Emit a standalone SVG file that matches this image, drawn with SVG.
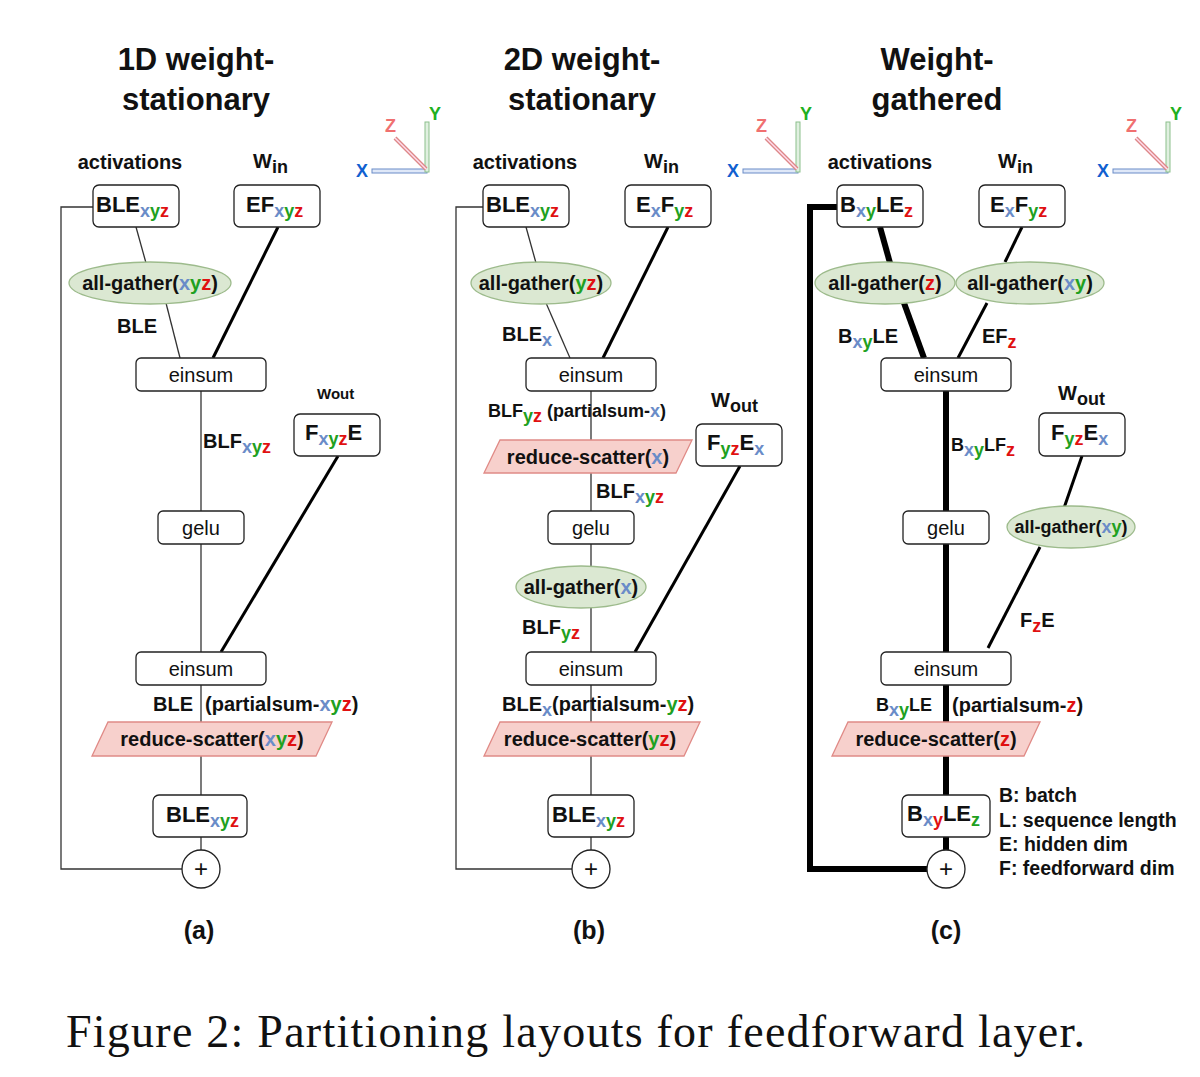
<svg xmlns="http://www.w3.org/2000/svg" width="1200" height="1077" viewBox="0 0 1200 1077">
<style>
text{font-family:"Liberation Sans",Arial,sans-serif;font-weight:bold;fill:#111}
.t{font-size:31px;text-anchor:middle}
.l{font-size:20px}
.c{text-anchor:middle}
.b{font-size:18px;baseline-shift:-5px}
.x{fill:#6a8cc8}.y{fill:#20a020}.z{fill:#e01010}
.bx{fill:#fff;stroke:#222;stroke-width:1.3}
.ag{fill:#dbe8d2;stroke:#9dbb8c;stroke-width:1.3}
.rs{fill:#f7d0cc;stroke:#e08a86;stroke-width:1.3}
.ln{stroke:#333;stroke-width:1.3;fill:none}
.tk{stroke:#000;stroke-width:3;fill:none}
.vt{stroke:#000;stroke-width:6;fill:none}
.p{font-size:24px;font-weight:normal;text-anchor:middle}
.cap{font-family:"Liberation Serif","Times New Roman",serif;font-weight:normal;font-size:46px}
</style>
<rect width="1200" height="1077" fill="#fff"/>
<text class="t" x="196" y="70">1D weight-</text><text class="t" x="196" y="110">stationary</text>
<text class="t" x="582" y="70">2D weight-</text><text class="t" x="582" y="110">stationary</text>
<text class="t" x="937" y="70">Weight-</text><text class="t" x="937" y="110">gathered</text>
<g id="axes">
<g>
<rect x="372" y="169" width="55" height="4" fill="#dfe8f8" stroke="#6a8cc8"/><rect x="425" y="122" width="4" height="50" fill="#e0f0e0" stroke="#8cbf8c"/>
<line x1="395" y1="138" x2="426" y2="169" stroke="#d88" stroke-width="4"/><line x1="395" y1="138" x2="426" y2="169" stroke="#fde" stroke-width="1.5"/>
<text x="356" y="177" style="font-size:18px;fill:#1060d0">X</text><text x="385" y="132" style="font-size:18px;fill:#f07070">Z</text><text x="429" y="120" style="font-size:18px;fill:#20b020">Y</text></g>
<g transform="translate(371,0)">
<rect x="372" y="169" width="55" height="4" fill="#dfe8f8" stroke="#6a8cc8"/><rect x="425" y="122" width="4" height="50" fill="#e0f0e0" stroke="#8cbf8c"/>
<line x1="395" y1="138" x2="426" y2="169" stroke="#d88" stroke-width="4"/><line x1="395" y1="138" x2="426" y2="169" stroke="#fde" stroke-width="1.5"/>
<text x="356" y="177" style="font-size:18px;fill:#1060d0">X</text><text x="385" y="132" style="font-size:18px;fill:#f07070">Z</text><text x="429" y="120" style="font-size:18px;fill:#20b020">Y</text></g>
<g transform="translate(741,0)">
<rect x="372" y="169" width="55" height="4" fill="#dfe8f8" stroke="#6a8cc8"/><rect x="425" y="122" width="4" height="50" fill="#e0f0e0" stroke="#8cbf8c"/>
<line x1="395" y1="138" x2="426" y2="169" stroke="#d88" stroke-width="4"/><line x1="395" y1="138" x2="426" y2="169" stroke="#fde" stroke-width="1.5"/>
<text x="356" y="177" style="font-size:18px;fill:#1060d0">X</text><text x="385" y="132" style="font-size:18px;fill:#f07070">Z</text><text x="429" y="120" style="font-size:18px;fill:#20b020">Y</text></g>
</g>
<g id="connectors">
<path class="ln" d="M93 207 H61 V869 H182"/>
<line class="ln" x1="136" y1="227" x2="146" y2="263"/><line class="ln" x1="166" y1="303" x2="180" y2="358"/>
<line class="tk" x1="278" y1="227" x2="213" y2="358"/>
<line class="ln" x1="201" y1="391" x2="201" y2="511"/><line class="ln" x1="201" y1="544" x2="201" y2="652"/>
<line class="tk" x1="338" y1="456" x2="221" y2="652"/>
<line class="ln" x1="201" y1="685" x2="201" y2="795"/><line class="ln" x1="201" y1="837" x2="201" y2="850"/>
<path class="ln" d="M483 207 H456 V869 H572"/>
<line class="ln" x1="526" y1="227" x2="536" y2="263"/><line class="ln" x1="546" y1="303" x2="570" y2="358"/>
<line class="tk" x1="668" y1="227" x2="603" y2="358"/>
<line class="ln" x1="591" y1="391" x2="591" y2="511"/><line class="ln" x1="591" y1="544" x2="591" y2="652"/>
<line class="tk" x1="740" y1="466" x2="635" y2="652"/>
<line class="ln" x1="591" y1="685" x2="591" y2="795"/><line class="ln" x1="591" y1="837" x2="591" y2="850"/>
<path class="vt" d="M837 207 H810 V869 H927"/>
<line class="vt" x1="880" y1="227" x2="890" y2="263"/><line class="vt" x1="904" y1="303" x2="924" y2="358"/>
<line class="tk" x1="1022" y1="227" x2="1005" y2="262"/><line class="tk" x1="987" y1="303" x2="958" y2="358"/>
<line class="vt" x1="946" y1="391" x2="946" y2="795"/><line class="vt" x1="946" y1="837" x2="946" y2="850"/>
<line class="tk" x1="1082" y1="456" x2="1064" y2="508"/><line class="tk" x1="1040" y1="547" x2="988" y2="648"/>
</g>
<g id="a-act"><text class="l c" x="130" y="169">activations</text><rect class="bx" x="93" y="185" width="86" height="42" rx="6"/><text x="96" y="212" style="font-size:22px">BLE<tspan class="x b">x</tspan><tspan class="y b">y</tspan><tspan class="z b">z</tspan></text></g>
<g id="a-win"><text class="l" x="253" y="168">W<tspan class="b">in</tspan></text><rect class="bx" x="234" y="185" width="86" height="42" rx="6"/><text x="246" y="212" style="font-size:22px">EF<tspan class="x b">x</tspan><tspan class="y b">y</tspan><tspan class="z b">z</tspan></text></g>
<g id="a-ag"><ellipse class="ag" cx="150" cy="283" rx="81" ry="21"/><text class="l c" x="150" y="290">all-gather(<tspan class="x">x</tspan><tspan class="y">y</tspan><tspan class="z">z</tspan>)</text></g>
<text class="l" x="117" y="333">BLE</text>
<g id="a-ein1"><rect class="bx" x="136" y="358" width="130" height="33" rx="5"/><text class="l c" x="201" y="382" style="font-weight:normal">einsum</text></g>
<text class="l" x="203" y="448">BLF<tspan class="x b">x</tspan><tspan class="y b">y</tspan><tspan class="z b">z</tspan></text>
<g id="a-wout"><text x="317" y="399" style="font-size:15px">Wout</text><rect class="bx" x="294" y="414" width="86" height="42" rx="6"/><text x="305" y="440" style="font-size:22px">F<tspan class="x b">x</tspan><tspan class="y b">y</tspan><tspan class="z b">z</tspan>E</text></g>
<g id="a-gelu"><rect class="bx" x="158" y="511" width="86" height="33" rx="5"/><text class="l c" x="201" y="535" style="font-weight:normal">gelu</text></g>
<g id="a-ein2"><rect class="bx" x="136" y="652" width="130" height="33" rx="5"/><text class="l c" x="201" y="676" style="font-weight:normal">einsum</text></g>
<text class="l" x="153" y="711">BLE</text><text class="l" x="205" y="711">(partialsum-<tspan class="x">x</tspan><tspan class="y">y</tspan><tspan class="z">z</tspan>)</text>
<g id="a-rs"><polygon class="rs" points="108,722 332,722 316,756 92,756"/><text class="l c" x="212" y="746">reduce-scatter(<tspan class="x">x</tspan><tspan class="y">y</tspan><tspan class="z">z</tspan>)</text></g>
<g id="a-out"><rect class="bx" x="153" y="795" width="94" height="42" rx="6"/><text x="166" y="822" style="font-size:22px">BLE<tspan class="x b">x</tspan><tspan class="y b">y</tspan><tspan class="z b">z</tspan></text></g>
<g id="a-plus"><circle class="bx" cx="201" cy="869" r="19"/><text class="p" x="201" y="877">+</text></g>
<text class="c" x="199" y="939" style="font-size:25px">(a)</text>
<g id="b-act"><text class="l c" x="525" y="169">activations</text><rect class="bx" x="483" y="185" width="86" height="42" rx="6"/><text x="486" y="212" style="font-size:22px">BLE<tspan class="x b">x</tspan><tspan class="y b">y</tspan><tspan class="z b">z</tspan></text></g>
<g id="b-win"><text class="l" x="644" y="168">W<tspan class="b">in</tspan></text><rect class="bx" x="625" y="185" width="86" height="42" rx="6"/><text x="636" y="212" style="font-size:22px">E<tspan class="x b">x</tspan>F<tspan class="y b">y</tspan><tspan class="z b">z</tspan></text></g>
<g id="b-ag"><ellipse class="ag" cx="541" cy="283" rx="70" ry="21"/><text class="l c" x="541" y="290">all-gather(<tspan class="y">y</tspan><tspan class="z">z</tspan>)</text></g>
<text class="l" x="502" y="341">BLE<tspan class="x b">x</tspan></text>
<g id="b-ein1"><rect class="bx" x="526" y="358" width="130" height="33" rx="5"/><text class="l c" x="591" y="382" style="font-weight:normal">einsum</text></g>
<text x="488" y="417" style="font-size:18px">BLF<tspan class="y b">y</tspan><tspan class="z b">z</tspan> (partialsum-<tspan class="x">x</tspan>)</text>
<g id="b-wout"><text class="l" x="711" y="407">W<tspan class="b">out</tspan></text><rect class="bx" x="696" y="424" width="86" height="42" rx="6"/><text x="707" y="450" style="font-size:22px">F<tspan class="y b">y</tspan><tspan class="z b">z</tspan>E<tspan class="x b">x</tspan></text></g>
<g id="b-rs"><polygon class="rs" points="500,440 692,440 676,473 484,473"/><text class="l c" x="588" y="464">reduce-scatter(<tspan class="x">x</tspan>)</text></g>
<text class="l" x="596" y="498">BLF<tspan class="x b">x</tspan><tspan class="y b">y</tspan><tspan class="z b">z</tspan></text>
<g id="b-gelu"><rect class="bx" x="548" y="511" width="86" height="33" rx="5"/><text class="l c" x="591" y="535" style="font-weight:normal">gelu</text></g>
<g id="b-ag2"><ellipse class="ag" cx="581" cy="587" rx="65" ry="21"/><text class="l c" x="581" y="594">all-gather(<tspan class="x">x</tspan>)</text></g>
<text class="l" x="522" y="634">BLF<tspan class="y b">y</tspan><tspan class="z b">z</tspan></text>
<g id="b-ein2"><rect class="bx" x="526" y="652" width="130" height="33" rx="5"/><text class="l c" x="591" y="676" style="font-weight:normal">einsum</text></g>
<text class="l" x="502" y="711">BLE<tspan class="x b">x</tspan>(partialsum-<tspan class="y">y</tspan><tspan class="z">z</tspan>)</text>
<g id="b-rs2"><polygon class="rs" points="500,722 700,722 684,756 484,756"/><text class="l c" x="590" y="746">reduce-scatter(<tspan class="y">y</tspan><tspan class="z">z</tspan>)</text></g>
<g id="b-out"><rect class="bx" x="548" y="795" width="86" height="42" rx="6"/><text x="552" y="822" style="font-size:22px">BLE<tspan class="x b">x</tspan><tspan class="y b">y</tspan><tspan class="z b">z</tspan></text></g>
<g id="b-plus"><circle class="bx" cx="591" cy="869" r="19"/><text class="p" x="591" y="877">+</text></g>
<text class="c" x="589" y="939" style="font-size:25px">(b)</text>
<g id="c-act"><text class="l c" x="880" y="169">activations</text><rect class="bx" x="837" y="185" width="86" height="42" rx="6"/><text x="840" y="212" style="font-size:22px">B<tspan class="x b">x</tspan><tspan class="y b">y</tspan>LE<tspan class="z b">z</tspan></text></g>
<g id="c-win"><text class="l" x="998" y="168">W<tspan class="b">in</tspan></text><rect class="bx" x="979" y="185" width="86" height="42" rx="6"/><text x="990" y="212" style="font-size:22px">E<tspan class="x b">x</tspan>F<tspan class="y b">y</tspan><tspan class="z b">z</tspan></text></g>
<g id="c-ag1"><ellipse class="ag" cx="885" cy="283" rx="70" ry="21"/><text class="l c" x="885" y="290">all-gather(<tspan class="z">z</tspan>)</text></g>
<g id="c-ag2"><ellipse class="ag" cx="1030" cy="283" rx="74" ry="21"/><text class="l c" x="1030" y="290">all-gather(<tspan class="x">x</tspan><tspan class="y">y</tspan>)</text></g>
<text class="l" x="838" y="343">B<tspan class="x b">x</tspan><tspan class="y b">y</tspan>LE</text>
<text class="l" x="982" y="343">EF<tspan class="z b">z</tspan></text>
<g id="c-ein1"><rect class="bx" x="881" y="358" width="130" height="33" rx="5"/><text class="l c" x="946" y="382" style="font-weight:normal">einsum</text></g>
<g id="c-wout"><text class="l" x="1058" y="400">W<tspan class="b">out</tspan></text><rect class="bx" x="1039" y="413" width="86" height="43" rx="6"/><text x="1051" y="440" style="font-size:22px">F<tspan class="y b">y</tspan><tspan class="z b">z</tspan>E<tspan class="x b">x</tspan></text></g>
<text x="951" y="451" style="font-size:18px">B<tspan class="x b">x</tspan><tspan class="y b">y</tspan>LF<tspan class="z b">z</tspan></text>
<g id="c-gelu"><rect class="bx" x="903" y="511" width="86" height="33" rx="5"/><text class="l c" x="946" y="535" style="font-weight:normal">gelu</text></g>
<g id="c-ag3"><ellipse class="ag" cx="1071" cy="527" rx="64" ry="21"/><text class="c" x="1071" y="533" style="font-size:18px">all-gather(<tspan class="x">x</tspan><tspan class="y">y</tspan>)</text></g>
<text class="l" x="1020" y="627">F<tspan class="z b">z</tspan>E</text>
<g id="c-ein2"><rect class="bx" x="881" y="652" width="130" height="33" rx="5"/><text class="l c" x="946" y="676" style="font-weight:normal">einsum</text></g>
<text x="876" y="711" style="font-size:18px">B<tspan class="x b">x</tspan><tspan class="y b">y</tspan>LE</text><text class="l" x="952" y="712">(partialsum-<tspan class="z">z</tspan>)</text>
<g id="c-rs"><polygon class="rs" points="848,722 1040,722 1024,756 832,756"/><text class="l c" x="936" y="746">reduce-scatter(<tspan class="z">z</tspan>)</text></g>
<g id="c-out"><rect class="bx" x="902" y="795" width="88" height="42" rx="6"/><text x="907" y="821" style="font-size:22px">B<tspan class="x b">x</tspan><tspan class="z b">y</tspan>LE<tspan class="y b">z</tspan></text></g>
<g id="c-plus"><circle class="bx" cx="946" cy="869" r="19"/><text class="p" x="946" y="877">+</text></g>
<g id="legend"><text x="999" y="802" style="font-size:19.5px">B: batch</text><text x="999" y="827" style="font-size:19.5px">L: sequence length</text><text x="999" y="851" style="font-size:19.5px">E: hidden dim</text><text x="999" y="875" style="font-size:19.5px">F: feedforward dim</text></g>
<text class="c" x="946" y="939" style="font-size:25px">(c)</text>
<text class="cap" x="66" y="1047" textLength="1019" lengthAdjust="spacing">Figure 2: Partitioning layouts for feedforward layer.</text>
</svg>
